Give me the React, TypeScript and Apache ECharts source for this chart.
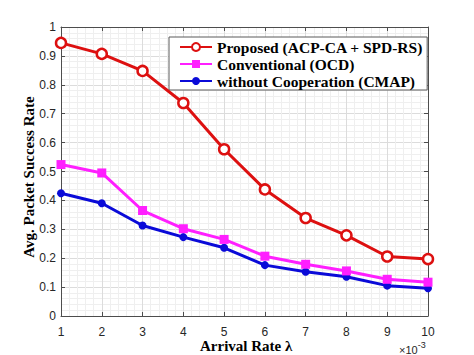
import React, { useEffect, useRef } from "react";
import * as echarts from "echarts";

const arrivalRates = [1, 2, 3, 4, 5, 6, 7, 8, 9, 10];
const proposed = [0.945, 0.907, 0.848, 0.737, 0.577, 0.438, 0.339, 0.279, 0.206, 0.197];
const conventional = [0.524, 0.495, 0.365, 0.302, 0.265, 0.207, 0.179, 0.156, 0.127, 0.117];
const withoutCoop = [0.425, 0.39, 0.313, 0.273, 0.236, 0.176, 0.153, 0.136, 0.105, 0.096];
const seriesNames = [
  "Proposed (ACP-CA + SPD-RS)",
  "Conventional (OCD)",
  "without Cooperation (CMAP)",
];

const toPairs = (ys: number[]) => arrivalRates.map((x, i) => [x, ys[i]]);

export default function App() {
  const ref = useRef<HTMLDivElement>(null);
  useEffect(() => {
    if (!ref.current) return;
    const chart = echarts.init(ref.current, undefined, { renderer: "svg" });
    const axisColor = "#4d4d4d";
    const tickFont = { fontFamily: "Liberation Sans, Arial", fontSize: 12, color: "#262626" };
    const splitLine = { show: true, lineStyle: { color: "#dcdcdc", width: 1 } };
    const minorSplitLine = { show: true, lineStyle: { color: "#efefef", width: 1 } };
    chart.setOption({
      animation: false,
      backgroundColor: "#ffffff",
      grid: { left: 61, right: 46, top: 27, bottom: 39 },
      legend: {
        left: 169,
        top: 37,
        orient: "vertical",
        itemWidth: 32,
        itemHeight: 10,
        itemGap: 1,
        padding: [2, 4, 1, 10],
        borderColor: "#5a5a5a",
        borderWidth: 1,
        backgroundColor: "#ffffff",
        textStyle: {
          fontFamily: "Liberation Serif, Times New Roman, serif",
          fontWeight: "bold",
          fontSize: 15.5,
          color: "#000",
        },
        data: seriesNames,
      },
      xAxis: [
        {
          type: "value",
          min: 1,
          max: 10,
          interval: 1,
          axisLine: { show: true, lineStyle: { color: axisColor } },
          axisTick: { show: true, inside: true, length: 4, lineStyle: { color: axisColor } },
          axisLabel: { ...tickFont, margin: 10 },
          splitLine,
          minorTick: { show: false, splitNumber: 5 },
          minorSplitLine,
        },
        {
          type: "value",
          position: "top",
          min: 1,
          max: 10,
          interval: 1,
          axisLine: { show: true, onZero: false, lineStyle: { color: axisColor } },
          axisTick: { show: true, inside: true, length: 4, lineStyle: { color: axisColor } },
          axisLabel: { show: false },
          splitLine: { show: false },
        },
      ],
      yAxis: [
        {
          type: "value",
          min: 0,
          max: 1,
          interval: 0.1,
          axisLine: { show: true, lineStyle: { color: axisColor } },
          axisTick: { show: true, inside: true, length: 4, lineStyle: { color: axisColor } },
          axisLabel: {
            ...tickFont,
            margin: 5,
            formatter: (v: number) => (Math.round(v * 10) / 10).toString(),
          },
          splitLine,
          minorTick: { show: false, splitNumber: 5 },
          minorSplitLine,
        },
        {
          type: "value",
          position: "right",
          min: 0,
          max: 1,
          interval: 0.1,
          axisLine: { show: true, onZero: false, lineStyle: { color: axisColor } },
          axisTick: { show: true, inside: true, length: 4, lineStyle: { color: axisColor } },
          axisLabel: { show: false },
          splitLine: { show: false },
        },
      ],
      graphic: [
        {
          type: "text",
          left: 200,
          top: 338,
          style: {
            text: "Arrival Rate λ",
            font: "bold 15px 'Liberation Serif', 'Times New Roman', serif",
            fill: "#000",
          },
        },
        {
          type: "text",
          left: 399,
          top: 340,
          style: {
            text: "{a|×10}{b|-3}",
            rich: {
              a: { fontFamily: "Liberation Sans, Arial", fontSize: 11, fill: "#262626", padding: [6, 0, 0, 0] },
              b: { fontFamily: "Liberation Sans, Arial", fontSize: 9, fill: "#262626", padding: [0, 0, 4, 0] },
            },
          },
        },
        {
          type: "text",
          x: 29,
          y: 177,
          rotation: Math.PI / 2,
          style: {
            text: "Avg. Packet Success Rate",
            font: "bold 15px 'Liberation Serif', 'Times New Roman', serif",
            fill: "#000",
            align: "center",
            verticalAlign: "middle",
          },
        },
      ],
      series: [
        {
          name: seriesNames[0],
          type: "line",
          data: toPairs(proposed),
          symbol: "circle",
          symbolSize: 10,
          lineStyle: { color: "#dd1010", width: 3 },
          itemStyle: { color: "#ffffff", borderColor: "#dd1010", borderWidth: 2.5 },
          color: "#dd1010",
          z: 5,
        },
        {
          name: seriesNames[1],
          type: "line",
          data: toPairs(conventional),
          symbol: "rect",
          symbolSize: 9,
          lineStyle: { color: "#ff1fff", width: 3 },
          itemStyle: { color: "#ff1fff" },
          color: "#ff1fff",
          z: 4,
        },
        {
          name: seriesNames[2],
          type: "line",
          data: toPairs(withoutCoop),
          symbol: "circle",
          symbolSize: 8,
          lineStyle: { color: "#0a0ad8", width: 3 },
          itemStyle: { color: "#0a0ad8" },
          color: "#0a0ad8",
          z: 3,
        },
      ],
    });
    return () => chart.dispose();
  }, []);
  return <div ref={ref} style={{ width: 474, height: 355, position: "absolute", left: 0, top: 0 }} />;
}
